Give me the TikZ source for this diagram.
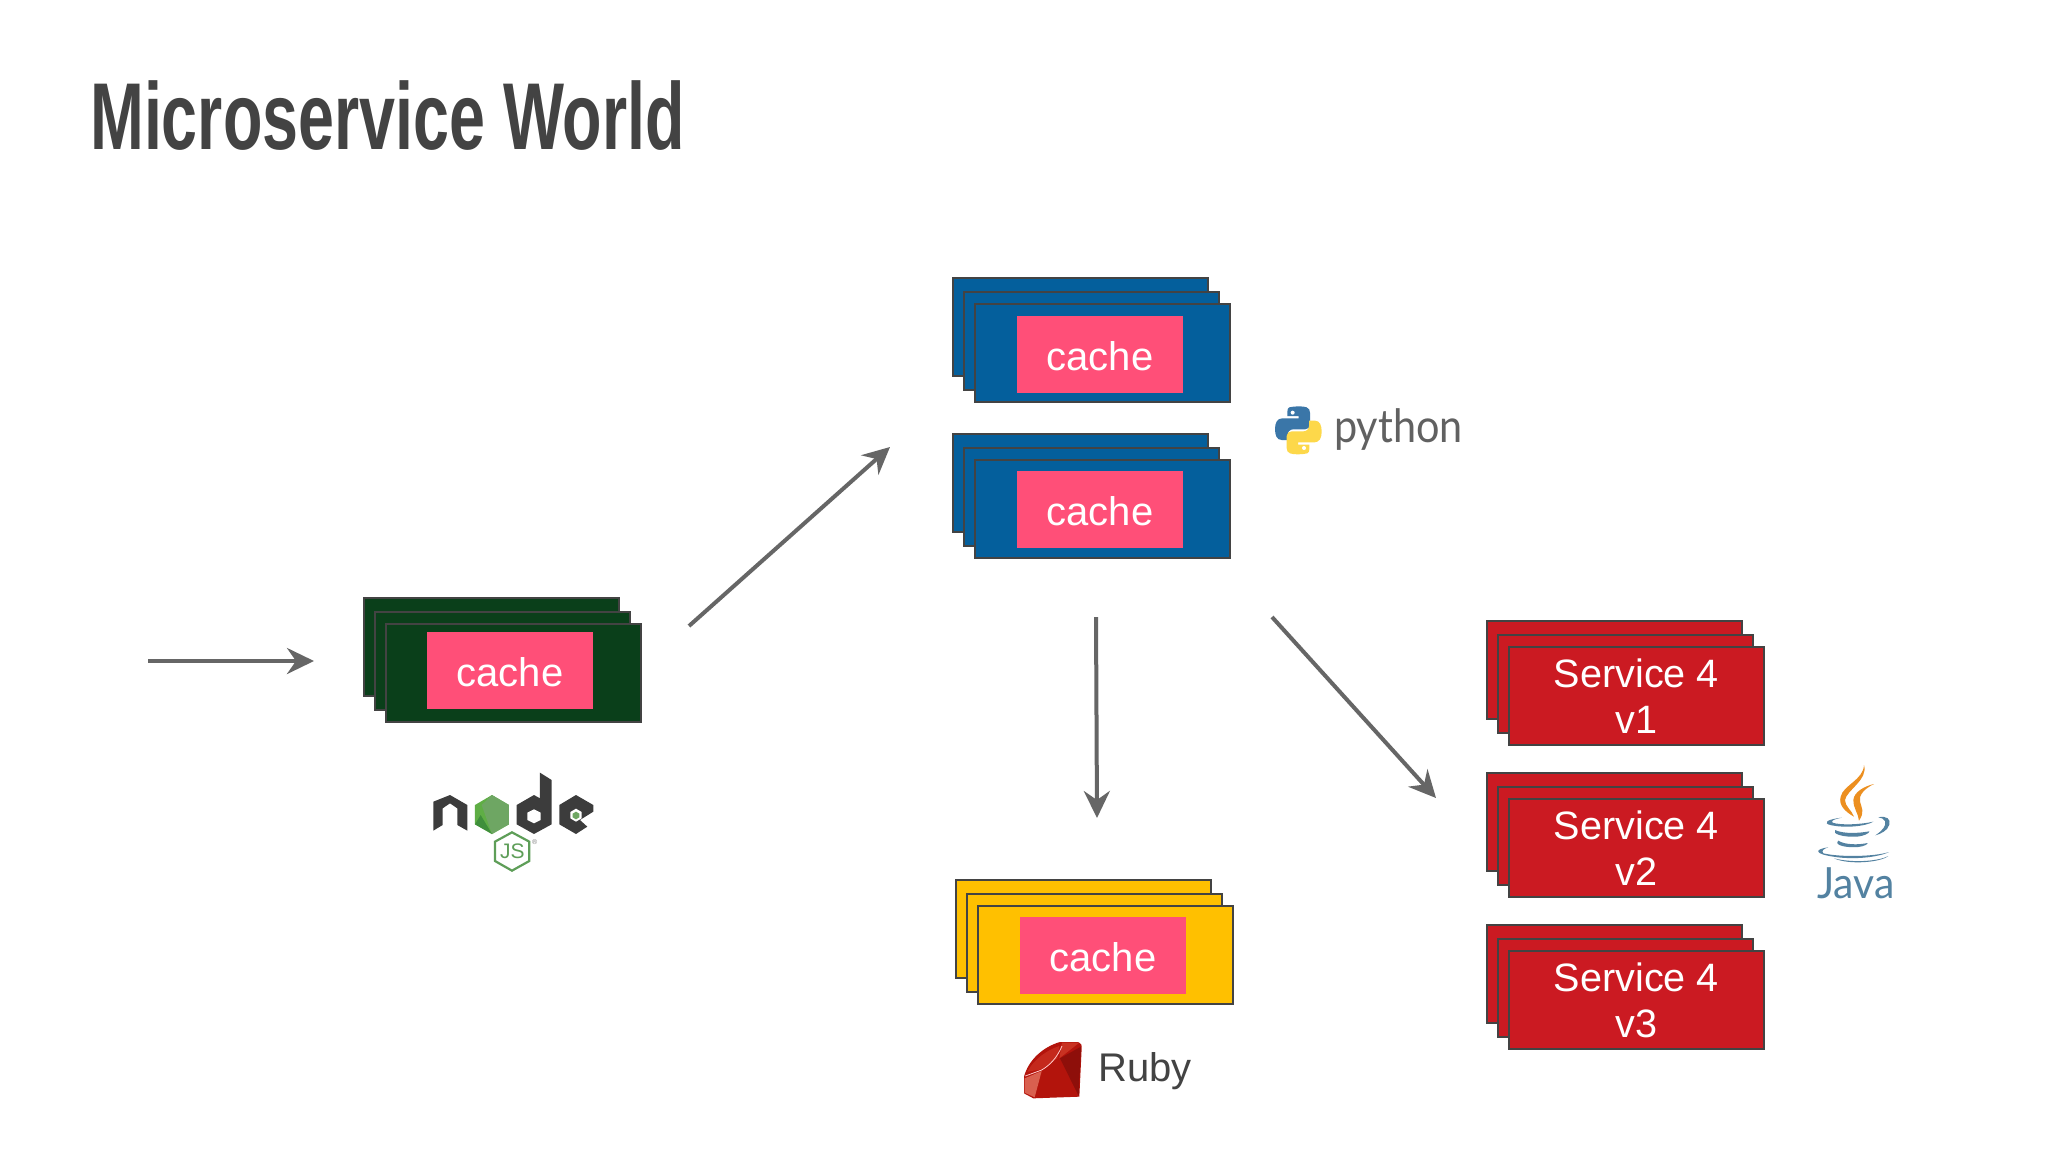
\documentclass[tikz,border=0pt]{standalone}
\usepackage{fontspec}
\usepackage{tikz}
\usetikzlibrary{arrows.meta}
\setmainfont{Liberation Sans}
\newfontfamily\titlefont[FakeStretch=0.68]{Liberation Sans Bold}
\newfontfamily\pyfont[FakeStretch=0.9]{Lato}
\newfontfamily\javafont[FakeStretch=0.95]{Lato}

\definecolor{inkgrey}{HTML}{434343}
\definecolor{arrowgrey}{HTML}{666666}
\definecolor{pinkcache}{HTML}{FF4F78}
\definecolor{nodegreen}{HTML}{0A3F1A}
\definecolor{pyblue}{HTML}{045F9C}
\definecolor{rubyyellow}{HTML}{FFC000}
\definecolor{javared}{HTML}{CB1A22}
\definecolor{javablue}{HTML}{5382A1}
\definecolor{javaorange}{HTML}{EC8F20}
\definecolor{snakeblue}{HTML}{3A76A8}
\definecolor{snakeyellow}{HTML}{FDD84A}
\definecolor{hexbase}{HTML}{5FAE45}
\definecolor{hexfacet}{HTML}{6EA663}
\definecolor{hexdark}{HTML}{3F8F3B}
\definecolor{jsgreen}{HTML}{5E9E58}
\definecolor{gembase}{HTML}{B3140C}
\definecolor{gemtop}{HTML}{C83222}
\definecolor{gemdark}{HTML}{8E0F0A}
\definecolor{gemlight}{HTML}{D9604F}
\definecolor{gemmid}{HTML}{C4291C}

\tikzset{
  card/.style={draw=inkgrey, line width=2pt, rectangle, anchor=north west,
    minimum width=255pt, minimum height=98pt, inner sep=0pt, outer sep=0pt,
    align=center, text=white, font=\fontsize{39.6}{46}\selectfont},
  cachebox/.style={fill=pinkcache, rectangle, anchor=north west, text=white,
    minimum width=166pt, minimum height=77pt, inner sep=0pt, outer sep=0pt,
    text height=31.6pt, font=\fontsize{40}{46}\selectfont},
  flow/.style={draw=arrowgrey, line width=4pt,
    -{Stealth[length=27pt,width=26pt,inset=9pt]}},
  logo/.style={shift={(#1)}, x=0.3333pt, y=-0.3333pt},
  pics/snake/.style={code={
    \fill[#1] (118,52) .. controls (135,48) and (160,48) .. (170,52)
      .. controls (177,55) and (180,60) .. (180,68) -- (180,104)
      .. controls (180,113) and (173,118) .. (165,118) -- (130,118)
      .. controls (120,118) and (113,125) .. (113,135) -- (113,150) -- (95,150)
      .. controls (80,150) and (75,135) .. (75,117)
      .. controls (75,98) and (82,85) .. (97,85) -- (146,85) -- (146,78) -- (112,78)
      -- (112,65) .. controls (112,58) and (114,54) .. (118,52) -- cycle;
    \fill[white] (128,68) circle (6);
  }}
}

% three stacked cards, 11 right and 13 down from each other
\newcommand{\cardstack}[5]{
  \node[card, fill=#4] (#1a) at (#2+1,#3) {};
  \node[card, fill=#4] (#1b) at (#2+12,#3+13.5) {};
  \node[card, fill=#4] (#1c) at (#2+23,#3+26) {#5};
}

\begin{document}
\begin{tikzpicture}[x=1pt,y=-1pt]
\useasboundingbox[fill=white] (0,0) rectangle (2048,1152);

\node[anchor=base west, inner sep=0pt, text=inkgrey, font=\titlefont\fontsize{95}{95}\selectfont]
  (title) at (90,149) {Microservice World};

% node
\cardstack{gr}{363}{598}{nodegreen}{}
\node[cachebox] (grcache) at (427,632) {cache};
% python
\cardstack{pa}{952}{278}{pyblue}{}
\node[cachebox] (pacache) at (1017,316) {cache};
\cardstack{pb}{952}{434}{pyblue}{}
\node[cachebox] (pbcache) at (1017,471) {cache};
% ruby
\cardstack{ye}{955}{880}{rubyyellow}{}
\node[cachebox] (yecache) at (1020,917) {cache};
% java
\cardstack{ra}{1486}{621}{javared}{Service 4\\v1}
\cardstack{rb}{1486}{773}{javared}{Service 4\\v2}
\cardstack{rc}{1486}{925}{javared}{Service 4\\v3}

% arrows
\coordinate (in0) at (148,661);
\coordinate (in1) at (314,661);
\coordinate (up0) at (689,626);
\coordinate (up1) at (890,447);
\coordinate (dn0) at (1096,617);
\coordinate (dn1) at (1097,818);
\coordinate (dg0) at (1272,617);
\coordinate (dg1) at (1436,798);
\draw[flow] (in0) -- (in1);
\draw[flow] (up0) -- (up1);
\draw[flow] (dn0) -- (dn1);
\draw[flow] (dg0) -- (dg1);

% node.js logo
\begin{scope}[logo={340,760}]
  \fill[inkgrey!90!black] (280,125) -- (330,105) -- (382,135) -- (382,212) -- (352,195) -- (352,145)
    -- (330,130) -- (308,145) -- (308,195) -- (280,212) -- cycle;
  \fill[inkgrey!90!black] (600,38) -- (635,60) -- (635,193) -- (582,222) -- (530,193) -- (530,135)
    -- (582,105) -- (600,115) -- cycle;
  \fill[white] (582,148) -- (602,158) -- (602,180) -- (582,190) -- (562,180) -- (562,158) -- cycle;
  \fill[inkgrey!90!black] (708,105) -- (760,135) -- (760,155) -- (720,180) -- (742,200) -- (708,222)
    -- (658,193) -- (658,135) -- cycle;
  \fill[white] (708,146) -- (725,156) -- (725,175) -- (708,185) -- (691,175) -- (691,156) -- cycle;
  \fill[hexfacet] (708,155) -- (718,161) -- (718,172) -- (708,178) -- (698,172) -- (698,161) -- cycle;
  % green hexagon
  \fill[hexbase] (456,105) -- (507,135) -- (507,193) -- (456,222) -- (405,193) -- (405,135) -- cycle;
  \fill[hexfacet] (456,105) -- (507,135) -- (507,193) -- (456,222) -- (425,135) -- cycle;
  \fill[hexdark] (405,193) -- (422,165) -- (456,222) -- cycle;
  \draw[jsgreen, line width=2.2pt] (516,217) -- (568,245) -- (568,303) -- (516,332)
    -- (465,303) -- (465,245) -- cycle;
  \node[text=jsgreen, font=\fontsize{21}{21}\selectfont, inner sep=0pt]
    (jsmark) at (517,275) {JS};
  \node[text=black!50, font=\fontsize{7}{7}\selectfont, inner sep=0pt] (regmark) at (584,247) {®};
\end{scope}

% python logo
\begin{scope}[logo={1250,390}]
  \pic {snake=snakeblue};
\end{scope}
\begin{scope}[shift={(1346.67,470.67)}, x=-0.3333pt, y=0.3333pt]
  \pic {snake=snakeyellow};
\end{scope}
\node[anchor=base west, inner sep=0pt, text=black!62, font=\pyfont\fontsize{46}{46}\selectfont]
  (pylabel) at (1334,442) {python};

% java logo
\begin{scope}[logo={1790,750}]
  \fill[javaorange] (222,45) .. controls (235,90) and (170,120) .. (165,150)
    .. controls (165,170) and (185,180) .. (192,200)
    .. controls (165,185) and (145,165) .. (152,140)
    .. controls (160,105) and (220,90) .. (222,45) -- cycle;
  \fill[javaorange] (252,102) .. controls (225,115) and (205,135) .. (210,155)
    .. controls (215,175) and (225,185) .. (207,212)
    .. controls (205,190) and (188,170) .. (190,150)
    .. controls (192,125) and (225,108) .. (252,102) -- cycle;
  \fill[javablue] (155,203) .. controls (110,208) and (95,220) .. (125,226)
    .. controls (165,234) and (225,230) .. (250,215)
    .. controls (210,224) and (150,226) .. (128,218)
    .. controls (120,212) and (135,207) .. (155,203) -- cycle;
  \fill[javablue] (265,202) .. controls (290,196) and (303,208) .. (298,224)
    .. controls (293,243) and (270,252) .. (256,256)
    .. controls (275,243) and (291,228) .. (285,213)
    .. controls (282,206) and (272,203) .. (265,202) -- cycle;
  \fill[javablue] (135,240) .. controls (125,252) and (160,262) .. (200,260)
    .. controls (222,258) and (238,250) .. (238,244)
    .. controls (205,250) and (160,252) .. (135,240) -- cycle;
  \fill[javablue] (145,272) .. controls (130,286) and (170,294) .. (205,291)
    .. controls (222,289) and (233,283) .. (233,279)
    .. controls (205,285) and (165,285) .. (145,272) -- cycle;
  \fill[javablue] (115,292) .. controls (70,298) and (75,312) .. (130,320)
    .. controls (190,330) and (265,322) .. (297,306)
    .. controls (255,320) and (150,322) .. (100,310)
    .. controls (92,302) and (102,296) .. (115,292) -- cycle;
  \fill[javablue] (132,325) .. controls (180,338) and (260,336) .. (295,318)
    .. controls (270,338) and (175,345) .. (132,325) -- cycle;
\end{scope}
\node[anchor=base west, inner sep=0pt, text=javablue, font=\javafont\fontsize{43}{43}\selectfont]
  (javalabel) at (1817,898) {Java};

% ruby logo
\begin{scope}[logo={1000,1030}]
  \fill[gembase] (180,36) -- (234,36) .. controls (243,38) and (246,45) .. (245,55)
    -- (238,200) -- (100,205) -- (72,190) -- (72,140) .. controls (85,90) and (130,50) .. (180,36) -- cycle;
  \fill[gemtop] (186,38) -- (238,38) -- (178,85) -- cycle;
  \fill[gemdark] (180,85) -- (243,50) -- (236,198) -- cycle;
  \fill[gembase] (125,123) -- (178,88) -- (234,196) -- (108,203) -- cycle;
  \fill[gemlight] (74,145) -- (125,123) -- (104,202) -- (74,188) -- cycle;
  \fill[gemmid] (82,125) .. controls (100,90) and (140,60) .. (178,48) -- (172,85) -- (125,118) -- cycle;
  \draw[white!80!red, line width=0.8pt] (186,48) .. controls (170,85) and (150,105) .. (125,120) -- (76,138);
\end{scope}
\node[anchor=base west, inner sep=0pt, text=inkgrey, font=\fontsize{40}{40}\selectfont]
  (rubylabel) at (1098,1081) {Ruby};
\end{tikzpicture}
\end{document}
